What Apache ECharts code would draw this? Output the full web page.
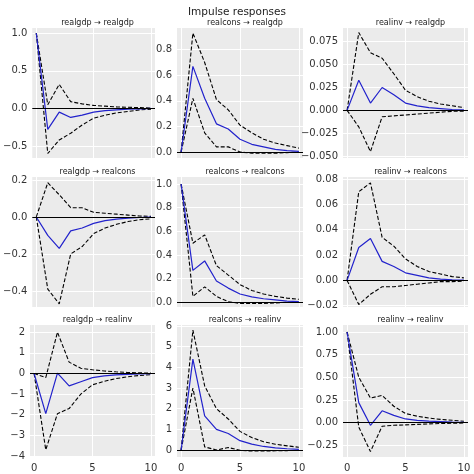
<!DOCTYPE html>
<html><head><meta charset="utf-8">
<script src="https://cdn.jsdelivr.net/npm/echarts@6/dist/echarts.min.js"></script>
<style>html,body{margin:0;padding:0;background:#fff}#c{width:474px;height:474px}</style>
</head><body><div id="c"></div>
<script>
const steps=[0,1,2,3,4,5,6,7,8,9,10];
const titles=["realgdp → realgdp","realcons → realgdp","realinv → realgdp","realgdp → realcons","realcons → realcons","realinv → realcons","realgdp → realinv","realcons → realinv","realinv → realinv"];
const irf=[
[1.0,-0.28,-0.05,-0.12,-0.09,-0.05,-0.03,-0.02,-0.01,-0.005,0],
[0,0.67,0.42,0.22,0.18,0.10,0.06,0.04,0.02,0.01,0.005],
[0,0.033,0.008,0.025,0.017,0.008,0.005,0.003,0.002,0.001,0.0005],
[0,-0.1,-0.17,-0.075,-0.06,-0.035,-0.02,-0.012,-0.006,-0.003,-0.001],
[1.0,0.27,0.35,0.18,0.12,0.07,0.045,0.03,0.02,0.01,0.005],
[0,0.026,0.033,0.015,0.011,0.006,0.004,0.002,0.001,0.0005,0.0003],
[0,-1.95,0.02,-0.6,-0.4,-0.2,-0.12,-0.07,-0.04,-0.02,-0.01],
[0,4.4,1.65,1.0,0.8,0.45,0.28,0.17,0.1,0.06,0.03],
[1.0,0.22,-0.03,0.13,0.08,0.04,0.025,0.015,0.01,0.005,0.003]];
const upper=[
[1.0,0.05,0.32,0.09,0.06,0.04,0.03,0.02,0.015,0.01,0.005],
[0,0.93,0.70,0.41,0.33,0.21,0.15,0.10,0.07,0.05,0.03],
[0,0.085,0.063,0.057,0.04,0.022,0.015,0.01,0.007,0.005,0.003],
[0,0.185,0.12,0.05,0.05,0.025,0.02,0.015,0.01,0.005,0.003],
[1.0,0.5,0.57,0.31,0.23,0.15,0.1,0.07,0.05,0.035,0.025],
[0,0.07,0.077,0.034,0.027,0.017,0.011,0.007,0.005,0.003,0.002],
[0,-0.2,2.0,0.55,0.25,0.18,0.12,0.08,0.05,0.03,0.02],
[0,5.8,3.1,2.0,1.5,0.9,0.6,0.4,0.28,0.2,0.13],
[1.0,0.5,0.27,0.3,0.18,0.1,0.07,0.05,0.035,0.025,0.015]];
const lower=[
[1.0,-0.6,-0.42,-0.33,-0.22,-0.13,-0.09,-0.06,-0.04,-0.02,-0.01],
[0,0.42,0.15,0.04,0.04,0.0,-0.01,-0.01,-0.01,-0.005,0],
[0,-0.018,-0.045,-0.007,-0.006,-0.005,-0.004,-0.003,-0.002,-0.001,-0.001],
[0,-0.39,-0.47,-0.2,-0.16,-0.09,-0.06,-0.04,-0.025,-0.015,-0.01],
[1.0,0.05,0.13,0.05,0.005,-0.01,-0.01,-0.01,-0.005,0,0],
[0,-0.019,-0.011,-0.005,-0.005,-0.004,-0.003,-0.002,-0.001,-0.001,-0.0005],
[0,-3.7,-1.95,-1.7,-1.0,-0.55,-0.38,-0.25,-0.16,-0.1,-0.06],
[0,3.0,0.15,0.0,0.12,-0.02,-0.05,-0.05,-0.04,-0.03,-0.02],
[1.0,-0.05,-0.32,-0.04,-0.03,-0.025,-0.02,-0.015,-0.01,-0.008,-0.005]];
const yTicks=[
[-0.5,0,0.5,1.0],[0,0.2,0.4,0.6,0.8],[-0.05,-0.025,0,0.025,0.05,0.075],
[-0.4,-0.2,0,0.2],[0,0.2,0.4,0.6,0.8,1.0],[-0.02,0,0.02,0.04,0.06,0.08],
[-4,-3,-2,-1,0,1,2],[0,1,2,3,4,5,6],[-0.25,0,0.25,0.5,0.75,1.0]];
const yDec=[1,1,3,1,1,2,0,0,2];
const yRange=[[-0.66,1.07],[-0.047,0.97],[-0.052,0.09],[-0.487,0.216],[-0.04,1.06],[-0.021,0.0816],[-4.05,2.35],[-0.34,6.05],[-0.38,1.077]];
const xTicks=[0,5,10];

const colL=[30,177,343], colW=[125,126,125];
const rowT=[28,177,325], rowH=[130,130,132];
const grid=[],xAxis=[],yAxis=[],series=[],title=[{text:'Impulse responses',left:'center',top:2,textStyle:{fontSize:10.5,fontWeight:'normal',color:'#222',fontFamily:'DejaVu Sans'}}];
for(let i=0;i<9;i++){
  const r=Math.floor(i/3),c=i%3;
  grid.push({left:colL[c],top:rowT[r],width:colW[c],height:rowH[r],show:true,backgroundColor:'#ebebeb',borderWidth:0});
  title.push({text:titles[i],left:colL[c]+colW[c]/2,top:rowT[r]-14,textAlign:'center',textStyle:{fontSize:8,fontWeight:'normal',color:'#222',fontFamily:'DejaVu Sans'}});
  xAxis.push({type:'value',gridIndex:i,min:-0.35,max:10.35,
    axisLine:{show:false},axisTick:{show:false,customValues:xTicks},
    splitLine:{show:true,lineStyle:{color:'#fff',width:1}},
    axisLabel:{show:r===2,customValues:xTicks,fontSize:10,color:'#333',fontFamily:'DejaVu Sans',margin:6,formatter:v=>String(Math.round(v))}});
  const d=yDec[i];
  yAxis.push({type:'value',gridIndex:i,min:yRange[i][0],max:yRange[i][1],
    axisLine:{show:false},axisTick:{show:false,customValues:yTicks[i]},
    splitLine:{show:true,lineStyle:{color:'#fff',width:1}},
    axisLabel:{customValues:yTicks[i],fontSize:10,color:'#333',fontFamily:'DejaVu Sans',margin:5,
      formatter:v=>{const s=Math.abs(v).toFixed(d);return (v<-1e-9?'\u2212':'')+s;}}});
  const mk=a=>steps.map((s,k)=>[s,a[k]]);
  series.push({type:'line',xAxisIndex:i,yAxisIndex:i,data:mk(irf[i]),symbol:'none',lineStyle:{color:'#2222cc',width:1.2},z:4,
    markLine:{silent:true,symbol:'none',label:{show:false},lineStyle:{color:'#000',type:'solid',width:1.2},data:[{yAxis:0}]}});
  series.push({type:'line',xAxisIndex:i,yAxisIndex:i,data:mk(upper[i]),symbol:'none',lineStyle:{color:'#000',width:1.1,type:[4,2]},z:3});
  series.push({type:'line',xAxisIndex:i,yAxisIndex:i,data:mk(lower[i]),symbol:'none',lineStyle:{color:'#000',width:1.1,type:[4,2]},z:3});
}
const ch=echarts.init(document.getElementById('c'),null,{renderer:'canvas'});
ch.setOption({animation:false,title,grid,xAxis,yAxis,series});
</script></body></html>
